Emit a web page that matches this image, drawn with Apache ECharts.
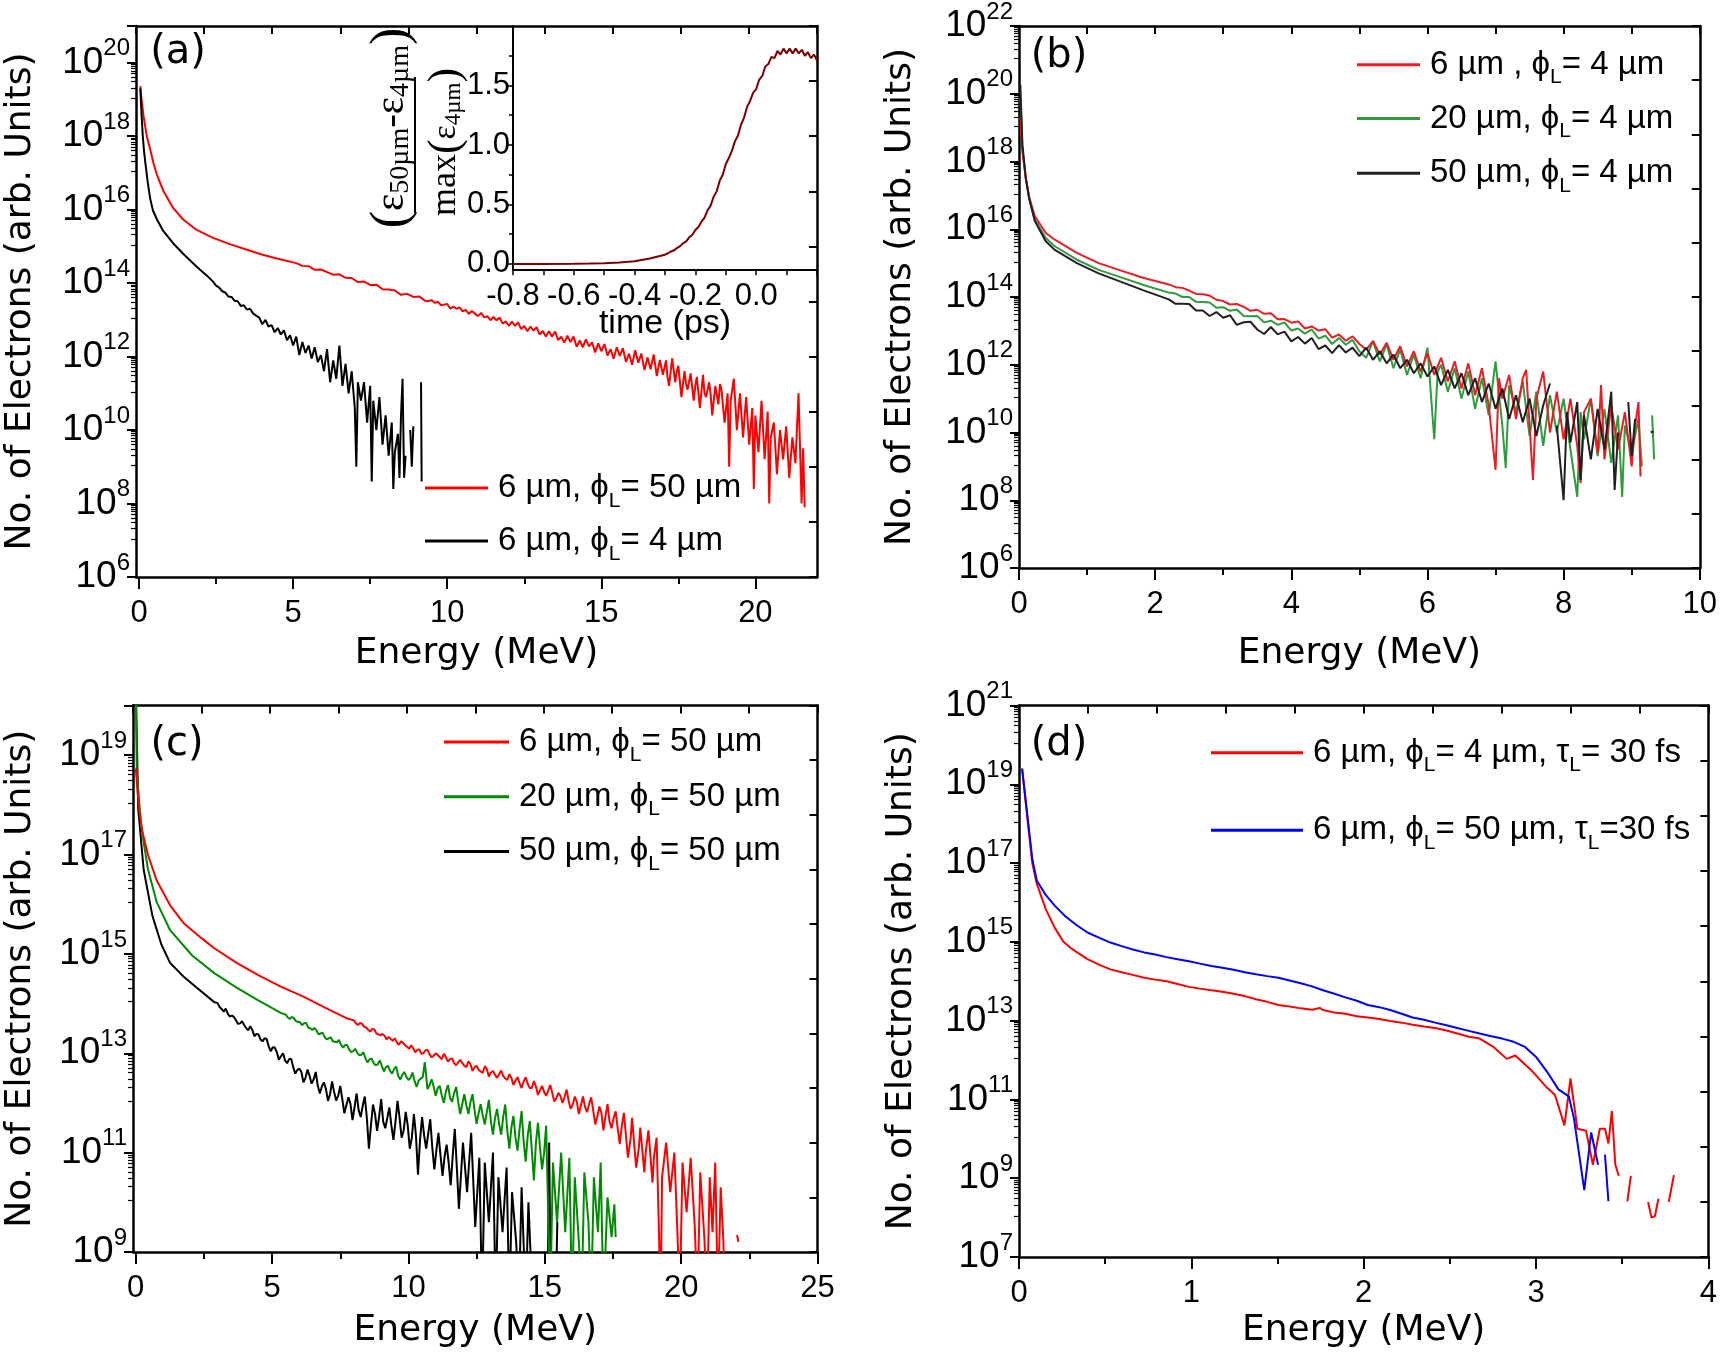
<!DOCTYPE html>
<html><head><meta charset="utf-8">
<script src="https://cdn.jsdelivr.net/npm/echarts@6/dist/echarts.min.js"></script>
<style>html,body{margin:0;padding:0;background:#fff}#chart{width:1720px;height:1352px}</style>
</head><body><div id="chart"></div>
<script>
// ---------------- DATA ----------------
// Panel (a): 6 µm target, two laser spot sizes
const redA = [[0.04,2.3e19],[0.08,1.0e19],[0.145,3.5e18],[0.25,1.0e18],[0.36,4.4e17],[0.47,1.8e17],[0.58,8.9e16],[0.79,3.2e16],[1.11,1.1e16],[1.43,5.4e15],[1.87,2.8e15],[2.4,1.7e15],[2.94,1.15e15],[3.5,8.1e14],[4.01,5.9e14],[4.5,4.6e14],
[5.1,3.5e14],[5.3,2.95e14],[5.5,2.9e14],[5.7,2.3e14],[5.9,2.35e14],[6.1,2.0e14],[6.3,1.7e14],[6.5,1.74e14],[6.7,1.4e14],[6.9,1.38e14],[7.1,1.07e14],[7.3,1.1e14],[7.5,8.9e13],[7.7,9.1e13],[7.9,6.8e13],[8.1,6.7e13],[8.3,6.3e13],[8.5,4.8e13],[8.7,5.1e13],[8.9,4.2e13],[9.1,4.3e13],[9.3,3.2e13],
[9.5,3.4e13],[9.6,2.9e13],[9.7,3.1e13],[9.8,2.5e13],[9.9,2.6e13],[10.0,2.7e13],[10.1,2.0e13],[10.2,2.3e13],[10.3,2.0e13],[10.4,2.2e13],[10.5,1.7e13],[10.6,1.86e13],[10.7,1.45e13],[10.8,1.74e13],[10.9,1.48e13],[11.0,1.26e13],[11.1,1.55e13],[11.2,1.17e13],[11.3,1.26e13],[11.4,9.8e12],[11.5,1.2e13],[11.6,9.8e12],[11.7,1.15e13],[11.8,7.9e12],[11.9,9.1e12],[12.0,6.9e12],[12.1,8.9e12],[12.2,6.9e12],[12.3,8.5e12],[12.4,5.6e12],[12.5,6.8e12],[12.6,4.9e12],[12.7,6.6e12],[12.8,5.1e12],[12.9,6.3e12],[13.0,4.0e12],[13.1,5.0e12],[13.2,3.5e12],[13.3,4.9e12],[13.4,3.5e12],[13.5,4.8e12],[13.6,2.8e12],[13.7,3.5e12],[13.8,2.4e12],[13.9,3.7e12],[14.0,2.5e12],[14.1,3.5e12],[14.2,1.86e12],[14.3,2.75e12],[14.4,1.8e12],[14.5,2.95e12],[14.6,1.9e12],[14.7,2.45e12],[14.8,1.3e12],[14.9,2.3e12],[15.0,1.4e12],[15.1,2.2e12],[15.2,1.07e12],[15.3,1.6e12],[15.4,8.7e11],[15.5,1.8e12],[15.6,1.05e12],[15.7,1.7e12],[15.8,7.2e11],[15.9,1.2e12],[16.0,6.0e11],[16.1,1.5e12],[16.2,6.8e11],[16.3,1.2e12],[16.4,4.3e11],[16.5,9.5e11],[16.6,4.5e11],[16.7,1.15e12],[16.8,3.0e11],[16.9,8.1e11],[17.0,3.2e11],
[17.1,7.9e11],[17.15,2.8e11],[17.2,1.6e11],[17.3,8.9e11],[17.4,2.0e11],[17.45,4.0e11],[17.5,5.6e11],[17.6,7.9e10],[17.7,4.0e11],[17.75,1.8e11],[17.8,1.26e11],[17.9,3.5e11],[18.0,6.3e10],[18.05,1.6e11],[18.1,2.8e11],[18.2,4.0e10],[18.3,3.2e11],[18.35,1.0e11],[18.4,7.9e10],[18.5,2.0e11],[18.55,8.9e10],[18.6,2.5e10],[18.7,1.6e11],[18.8,5.0e10],[18.85,1.8e11],[18.9,1.26e11],[19.0,1.6e10],[19.1,1.0e11],[19.15,1.0e9],[19.2,6.3e10],[19.3,2.5e11],[19.4,1.0e10],[19.5,1.0e11],[19.6,6.3e9],[19.7,7.9e10],[19.8,4.0e9],[19.9,4.0e10],[19.95,2.5e8],[20.0,2.5e10],[20.1,2.5e9],[20.2,6.3e10],[20.3,1.6e9],[20.4,3.2e10],[20.45,1.0e8],[20.5,6.3e9],[20.6,1.6e10],[20.7,6.3e8],[20.8,1.0e10],[20.9,1.6e9],[21.0,1.26e10],[21.1,5.0e8],[21.2,6.3e9],[21.3,1.26e9],[21.4,1.0e11],[21.5,1.0e8],[21.55,3.2e9],[21.6,7.9e7]];

const blackA = [[0.04,2.0e19],[0.08,4.0e18],[0.12,1.0e18],[0.16,4.0e17],[0.2,2.0e17],[0.28,5.6e16],[0.36,2.0e16],[0.45,9.5e15],[0.58,5.4e15],[0.79,2.6e15],[1.11,1.2e15],[1.43,6.3e14],[1.87,2.8e14],[2.2,1.6e14],[2.4,1.1e14],
[2.5,8.5e13],[2.6,7.6e13],[2.7,6.0e13],[2.8,5.5e13],[2.9,4.3e13],[3.0,4.2e13],[3.1,3.3e13],[3.2,3.2e13],[3.3,2.4e13],[3.4,2.5e13],[3.5,1.9e13],[3.6,2.0e13],[3.7,1.5e13],[3.8,1.3e13],[3.9,1.15e13],[4.0,7.6e12],[4.1,1.0e13],[4.2,6.6e12],[4.3,7.2e12],[4.4,4.6e12],[4.5,6.0e12],[4.6,4.0e12],[4.7,5.2e12],[4.8,2.8e12],[4.9,3.8e12],[5.0,2.0e12],[5.1,3.5e12],[5.2,1.1e12],[5.3,2.5e12],[5.4,1.26e12],[5.5,2.0e12],[5.6,8.9e11],[5.7,1.8e12],[5.8,7.1e11],[5.9,1.1e12],[6.0,4.0e11],[6.1,1.6e12],[6.2,2.0e11],[6.3,7.9e11],[6.4,2.5e11],[6.5,2.0e12],[6.6,1.6e11],[6.7,6.3e11],[6.8,1.0e11],[6.9,4.0e11],[7.0,4.0e10],[7.05,1.0e9],[7.1,2.0e11],[7.2,6.3e10],[7.3,2.0e11],[7.4,1.6e10],[7.5,1.6e11],[7.55,4.0e8],[7.6,6.3e10],[7.7,1.0e10],[7.8,7.9e10],[7.9,4.0e9],[8.0,2.5e10],[8.1,2.0e9],[8.2,1.6e10],[8.25,2.5e8],[8.3,2.5e9],[8.4,7.9e9],[8.45,5.0e8],[8.5,2.5e10],[8.55,2.5e11],[8.6,5.0e8],[8.65,2.0e9],[8.7,null],[8.8,1.0e10],[8.85,1.0e9],[8.9,1.26e10],[8.95,null],[9.15,2.0e11],[9.17,4.0e8]];

// Inset of (a): (ε50µm-ε4µm)/max(ε4µm) versus time (ps)
const insetCurve = [[-0.8,0],[-0.7,0],[-0.6,0.001],[-0.55,0.003],[-0.5,0.006],[-0.45,0.012],[-0.4,0.022],[-0.35,0.045],[-0.3,0.078],[-0.29,0.09],[-0.28,0.105],[-0.27,0.115],[-0.26,0.135],[-0.25,0.15],[-0.24,0.175],[-0.23,0.19],[-0.22,0.225],[-0.21,0.245],[-0.2,0.285],[-0.19,0.31],[-0.18,0.355],[-0.17,0.39],[-0.16,0.45],[-0.15,0.49],[-0.14,0.565],[-0.13,0.61],[-0.12,0.7],[-0.11,0.75],[-0.1,0.84],[-0.09,0.89],[-0.08,0.95],[-0.07,1.03],[-0.06,1.08],[-0.05,1.17],[-0.04,1.23],[-0.03,1.32],[-0.02,1.37],[-0.01,1.44],[0.0,1.47],[0.01,1.55],[0.02,1.58],[0.03,1.66],[0.04,1.68],[0.05,1.74],[0.06,1.73],[0.07,1.79],[0.08,1.76],[0.09,1.81],[0.1,1.77],[0.11,1.81],[0.12,1.77],[0.13,1.81],[0.14,1.77],[0.15,1.8],[0.16,1.75],[0.17,1.78],[0.18,1.73],[0.19,1.76],[0.2,1.71]];

// Panel (b): laser spot 4 µm, three target thicknesses
const redB = [[0.02,2.0e19],[0.05,2.0e18],[0.1,3.2e17],[0.15,8.9e16],[0.23,2.5e16],[0.39,7.9e15],[0.52,5.0e15],[0.85,2.0e15],[1.17,1.0e15],[1.5,6.0e14],[1.82,3.7e14],[2.2,2.35e14],
[2.3,1.95e14],[2.4,1.86e14],[2.5,1.55e14],[2.6,1.23e14],[2.7,1.2e14],[2.8,1.1e14],[2.9,8.3e13],[3.0,7.6e13],[3.1,6.0e13],[3.2,6.2e13],[3.3,5.1e13],[3.4,3.9e13],[3.5,4.2e13],[3.6,3.2e13],[3.7,3.3e13],[3.8,2.2e13],[3.9,2.24e13],[4.0,1.74e13],[4.1,1.9e13],[4.2,1.17e13],[4.3,1.35e13],[4.4,1.02e13],[4.5,1.12e13],[4.6,6.3e12],[4.7,7.8e12],[4.8,5.1e12],[4.9,6.9e12],[5.0,4.1e12],
[5.1,2.8e12],[5.2,5.0e12],[5.3,2.0e12],[5.4,4.5e12],[5.5,1.4e12],[5.6,3.5e12],[5.7,8.9e11],[5.8,2.5e12],[5.9,6.3e11],[6.0,2.2e12],[6.1,5.0e11],[6.2,1.6e12],[6.3,3.2e11],[6.4,1.26e12],[6.5,2.0e11],[6.6,1.1e12],[6.7,1.26e11],[6.8,7.9e11],[6.9,6.3e10],[7.0,7.9e8],[7.05,4.0e11],[7.1,1.0e11],[7.2,5.0e11],[7.3,2.5e10],[7.4,4.0e11],[7.45,7.1e11],[7.5,1.6e10],[7.55,4.0e8],[7.6,1.0e11],[7.7,6.3e11],[7.8,1.0e10],[7.9,1.6e11],[8.0,6.3e9],[8.1,1.0e11],[8.2,4.0e9],[8.25,3.2e8],[8.3,4.0e10],[8.4,1.0e11],[8.5,2.5e9],[8.55,2.5e11],[8.6,1.6e9],[8.7,6.3e10],[8.8,3.2e9],[8.9,4.0e10],[9.0,1.0e9],[9.05,1.6e10],[9.1,7.9e10],[9.13,5.0e8]];

const greenB = [[0.02,7.4e19],[0.05,2.5e18],[0.1,3.2e17],[0.15,7.9e16],[0.23,2.0e16],[0.39,5.6e15],[0.52,3.2e15],[0.85,1.26e15],[1.17,6.3e14],[1.5,3.8e14],[1.82,2.3e14],[2.2,1.35e14],
[2.3,1.26e14],[2.4,1.0e14],[2.5,1.0e14],[2.6,7.2e13],[2.7,7.1e13],[2.8,6.9e13],[2.9,4.8e13],[3.0,5.0e13],[3.1,3.9e13],[3.2,4.3e13],[3.3,2.75e13],[3.4,2.7e13],[3.5,2.75e13],[3.6,1.78e13],[3.7,2.0e13],[3.8,1.5e13],[3.9,1.78e13],[4.0,1.02e13],[4.1,1.17e13],[4.2,8.3e12],[4.3,1.1e13],[4.4,5.9e12],[4.5,7.2e12],[4.6,4.1e12],[4.7,6.2e12],[4.8,3.9e12],[4.9,5.4e12],[5.0,2.5e12],
[5.1,1.6e12],[5.2,5.0e12],[5.3,1.26e12],[5.4,4.0e12],[5.5,7.9e11],[5.6,2.8e12],[5.7,5.0e11],[5.8,2.0e12],[5.9,4.0e11],[6.0,3.2e12],[6.1,6.3e9],[6.15,6.3e11],[6.2,1.0e12],[6.3,1.6e11],[6.4,7.9e11],[6.5,1.0e11],[6.6,6.3e11],[6.7,5.0e10],[6.8,4.0e11],[6.9,3.2e10],[7.0,1.26e12],[7.1,1.6e10],[7.15,8.9e8],[7.2,2.5e11],[7.3,4.0e10],[7.4,3.2e11],[7.5,7.9e9],[7.6,1.6e11],[7.7,4.0e9],[7.8,1.26e11],[7.9,1.0e10],[8.0,1.0e11],[8.1,3.2e9],[8.2,1.26e8],[8.25,4.0e10],[8.3,6.3e9],[8.4,1.0e11],[8.5,2.0e9],[8.6,5.0e10],[8.7,1.26e9],[8.8,3.2e10],[8.86,1.26e8],[8.9,1.6e10],[9.0,2.5e9],[9.1,2.5e10],[9.15,1.0e9],[9.2,null],[9.3,3.2e10],[9.33,1.6e9]];

const blackB = [[0.02,1.8e20],[0.05,3.2e18],[0.1,3.2e17],[0.15,7.9e16],[0.23,1.8e16],[0.39,4.5e15],[0.52,2.5e15],[0.85,1.0e15],[1.17,5.0e14],[1.5,2.8e14],[1.82,1.6e14],[2.2,8.5e13],
[2.3,6.3e13],[2.4,6.3e13],[2.5,6.2e13],[2.6,4.0e13],[2.7,4.0e13],[2.8,2.75e13],[2.9,3.6e13],[3.0,2.45e13],[3.1,2.9e13],[3.2,1.5e13],[3.3,1.8e13],[3.4,1.86e13],[3.5,1.1e13],[3.6,8.1e12],[3.7,1.3e13],[3.8,7.9e12],[3.9,9.5e12],[4.0,4.9e12],[4.1,6.6e12],[4.2,4.2e12],[4.3,6.2e12],[4.4,2.9e12],[4.5,3.7e12],[4.6,2.2e12],[4.7,3.8e12],[4.8,2.3e12],[4.9,3.2e12],[5.0,1.8e12],
[5.1,3.2e12],[5.2,1.4e12],[5.3,2.5e12],[5.4,1.1e12],[5.5,2.0e12],[5.6,7.9e11],[5.7,1.4e12],[5.8,5.6e11],[5.9,1.1e12],[6.0,4.5e11],[6.1,8.9e11],[6.2,2.5e11],[6.3,7.1e11],[6.4,2.0e11],[6.5,5.6e11],[6.6,1.26e11],[6.7,4.0e11],[6.8,7.9e10],[6.9,2.8e11],[7.0,5.0e10],[7.1,2.0e11],[7.2,2.5e10],[7.3,1.26e11],[7.4,2.0e10],[7.5,1.0e11],[7.6,7.9e9],[7.7,6.3e10],[7.8,2.8e11],[7.85,null],[7.9,1.6e10],[8.0,1.0e8],[8.05,4.0e10],[8.1,5.0e9],[8.2,7.9e10],[8.25,4.0e8],[8.3,3.2e10],[8.4,1.6e9],[8.5,5.0e10],[8.6,3.2e9],[8.7,1.6e11],[8.75,2.0e8],[8.8,1.0e10],[8.85,null],[8.95,7.9e10],[9.0,2.0e9],[9.05,2.5e10],[9.1,null],[9.28,1.0e10],[9.32,1.1e10]];

// Panel (c): laser spot 50 µm, three target thicknesses
const redC = [[0.0,5.4e18],[0.12,8.5e17],[0.25,2.8e17],[0.45,9.8e16],[0.77,3.0e16],[1.26,9.5e15],[1.75,4.2e15],[2.4,2.1e15],[2.88,1.3e15],[3.7,6.6e14],[4.51,3.7e14],[5.32,2.2e14],[6.13,1.4e14],[6.94,8.3e13],[7.76,5.0e13],
[8.0,4.6e13],[8.075,4.0e13],[8.15,3.7e13],[8.225,4.1e13],[8.3,3.9e13],[8.375,3.4e13],[8.45,3.3e13],[8.525,2.95e13],[8.6,2.75e13],[8.675,3.1e13],[8.75,3.0e13],[8.825,2.5e13],[8.9,2.4e13],[8.975,2.3e13],[9.05,2.45e13],[9.125,2.24e13],[9.2,1.9e13],[9.275,2.14e13],[9.35,1.95e13],[9.425,1.78e13],[9.5,2.0e13],[9.575,1.66e13],[9.65,1.48e13],[9.725,1.74e13],[9.8,1.62e13],[9.875,1.45e13],[9.95,1.35e13],[10.025,1.23e13],[10.1,1.45e13],[10.175,1.26e13],[10.25,1.05e13],[10.325,1.17e13],[10.4,1.2e13],[10.475,9.8e12],[10.55,1.0e13],[10.625,1.15e13],[10.7,1.17e13],[10.775,9.5e12],[10.85,8.3e12],[10.925,8.9e12],[11.0,1.0e13],[11.075,9.3e12],[11.15,8.3e12],[11.225,7.6e12],[11.3,9.8e12],[11.375,8.3e12],[11.45,6.8e12],[11.525,7.6e12],[11.6,7.9e12],[11.675,6.3e12],[11.75,5.75e12],[11.825,6.6e12],[11.9,7.4e12],[11.975,6.3e12],[12.05,5.6e12],[12.125,5.25e12],[12.2,6.9e12],[12.275,6.0e12],[12.35,4.4e12],[12.425,5.25e12],[12.5,5.6e12],[12.575,4.6e12],[12.65,4.3e12],[12.725,4.0e12],[12.8,5.5e12],[12.875,4.8e12],[12.95,3.4e12],[13.025,4.1e12],[13.1,4.4e12],[13.175,3.7e12],[13.25,3.2e12],[13.325,3.8e12],[13.4,4.5e12],[13.475,3.5e12],[13.55,3.1e12],[13.625,2.9e12],[13.7,3.8e12],[13.775,3.2e12],[13.85,2.3e12],[13.925,2.8e12],[14.0,3.3e12],[14.075,2.5e12],[14.15,2.0e12],[14.225,2.7e12],[14.3,3.3e12],[14.375,2.4e12],[14.45,2.0e12],[14.525,2.0e12],[14.6,2.75e12],[14.675,2.14e12],[14.75,1.45e12],[14.825,1.8e12],[14.9,2.2e12],[14.975,1.66e12],[15.05,1.4e12],[15.125,1.78e12],[15.2,2.3e12],[15.275,1.58e12],[15.35,1.07e12],[15.425,1.26e12],[15.5,1.6e12],[15.575,1.38e12],[15.65,1.0e12],[15.725,1.32e12],[15.8,1.86e12],[15.875,1.1e12],[15.95,7.6e11],[16.025,9.3e11],[16.1,1.35e12],[16.175,1.05e12],[16.25,6.0e11],[16.325,8.9e11],[16.4,1.35e12],[16.475,8.3e11],[16.55,6.5e11],[16.625,9.5e11],[16.7,1.3e12],[16.775,7.1e11],[16.85,3.7e11],[16.925,5.25e11],[17.0,8.5e11],[17.075,6.3e11],[17.15,2.8e11],[17.225,5.4e11],[17.3,9.5e11],[17.375,4.2e11],[17.45,3.1e11],[17.525,5.0e11],[17.6,6.8e11],[17.675,3.0e11],[17.75,1.5e11],[17.825,3.5e11],[17.9,6.3e11],
[18.05,7.9e10],[18.15,2.0e11],[18.2,5.0e11],[18.35,5.0e10],[18.45,1.26e11],[18.5,3.2e11],[18.65,4.0e10],[18.7,1.0e11],[18.8,2.8e11],[18.95,2.5e10],[19.0,7.9e10],[19.1,2.0e11],[19.25,1.0e8],[19.3,3.2e10],[19.45,1.6e11],[19.6,1.6e10],[19.75,1.0e11],[19.85,4.0e9],[19.95,1.0e8],[20.05,6.3e10],[20.2,6.3e9],[20.35,7.9e10],[20.5,3.2e9],[20.6,1.0e8],[20.7,4.0e10],[20.85,2.0e9],[20.95,1.0e8],[21.05,3.2e10],[21.15,2.5e9],[21.25,6.3e10],[21.35,1.0e8],[21.45,2.0e10],[21.55,1.6e9],[21.6,1.0e8],[21.65,null],[22.05,2.2e9],[22.1,1.6e9]];

const greenC = [[0.0,3.0e20],[0.04,4.6e18],[0.2,3.7e17],[0.45,5.0e16],[0.77,1.1e16],[1.26,3.0e15],[2.07,9.3e14],[2.88,4.1e14],[3.7,2.1e14],[4.51,1.15e14],[5.32,6.5e13],
[5.5,6.0e13],[5.575,5.25e13],[5.65,4.9e13],[5.725,5.4e13],[5.8,5.1e13],[5.875,4.4e13],[5.95,4.3e13],[6.025,4.2e13],[6.1,3.7e13],[6.175,4.0e13],[6.25,4.1e13],[6.325,3.3e13],[6.4,3.2e13],[6.475,2.95e13],[6.55,3.25e13],[6.625,2.9e13],[6.7,2.4e13],[6.775,2.5e13],[6.85,2.6e13],[6.925,2.14e13],[7.0,1.9e13],[7.075,2.0e13],[7.15,2.1e13],[7.225,1.74e13],[7.3,1.7e13],[7.375,1.66e13],[7.45,1.86e13],[7.525,1.5e13],[7.6,1.3e13],[7.675,1.45e13],[7.75,1.48e13],[7.825,1.2e13],[7.9,1.05e13],[7.975,1.1e13],[8.05,1.23e13],[8.125,1.02e13],[8.2,9.1e12],[8.275,9.3e12],[8.35,1.05e13],[8.425,7.9e12],[8.5,6.5e12],[8.575,7.6e12],[8.65,7.8e12],[8.725,6.3e12],[8.8,5.75e12],[8.875,6.0e12],[8.95,7.2e12],[9.025,5.5e12],[9.1,4.3e12],[9.175,5.25e12],[9.25,5.6e12],[9.325,4.4e12],[9.4,3.9e12],[9.475,4.8e12],[9.55,5.4e12],[9.625,3.5e12],[9.7,2.95e12],[9.775,3.7e12],[9.85,4.2e12],[9.925,3.3e12],[10.0,2.9e12],[10.075,3.2e12],[10.15,4.1e12],[10.225,2.75e12],[10.3,2.1e12],[10.375,2.8e12],[10.45,3.1e12],[10.525,3.3e12],[10.6,6.6e12],[10.65,3.5e12],[10.7,1.9e12],[10.775,2.3e12],[10.85,3.0e12],[10.925,2.14e12],[11.0,1.4e12],[11.075,2.0e12],[11.15,2.2e12],[11.225,1.4e12],[11.3,1.0e12],[11.375,1.74e12],[11.45,2.3e12],[11.525,1.26e12],[11.6,1.05e12],[11.675,1.58e12],[11.75,2.1e12],[11.825,1.05e12],[11.9,6.0e11],[11.975,9.5e11],[12.05,1.5e12],[12.125,8.9e11],[12.2,6.0e11],[12.275,1.05e12],[12.35,1.5e12],[12.425,7.1e11],[12.5,3.8e11],[12.575,6.3e11],[12.65,9.5e11],[12.725,5.6e11],[12.8,3.7e11],[12.875,6.6e11],[12.95,1.15e12],[13.025,4.2e11],[13.1,2.3e11],[13.175,5.0e11],[13.25,7.6e11],[13.325,3.8e11],[13.4,2.3e11],[13.475,5.25e11],[13.55,9.3e11],[13.625,2.8e11],[13.7,1.2e11],[13.775,3.2e11],[13.85,5.5e11],[13.925,2.0e11],[14.0,1.1e11],[14.075,3.0e11],[14.15,6.9e11],[14.225,1.66e11],[14.3,6.6e10],[14.375,2.24e11],[14.45,4.3e11],[14.525,1.12e11],[14.6,2.75e10],[14.675,1.58e11],[14.75,4.0e11],[14.825,1.26e11],[14.9,4.6e10],[14.975,1.0e11],[15.05,3.5e11],
[15.2,1.0e8],[15.3,6.3e10],[15.45,4.0e9],[15.6,1.0e11],[15.75,2.5e9],[15.9,7.9e10],[16.0,1.0e8],[16.1,3.2e10],[16.25,1.6e9],[16.35,1.0e8],[16.45,4.0e10],[16.6,4.0e9],[16.7,1.0e8],[16.8,3.2e10],[16.95,2.5e9],[17.05,6.3e10],[17.15,1.0e8],[17.3,1.26e10],[17.45,2.0e9],[17.55,9.1e9],[17.6,2.0e9]];

const blackC = [[0.0,3.0e20],[0.09,8.5e17],[0.29,5.0e16],[0.61,5.9e15],[0.94,1.55e15],[1.26,6.6e14],[1.75,3.5e14],[2.23,2.1e14],[2.88,1.07e14],
[3.0,1.02e14],[3.075,8.5e13],[3.15,7.8e13],[3.225,6.9e13],[3.3,7.9e13],[3.375,6.3e13],[3.45,5.5e13],[3.525,5.75e13],[3.6,5.4e13],[3.675,4.6e13],[3.75,3.9e13],[3.825,4.0e13],[3.9,4.4e13],[3.975,3.7e13],[4.05,3.2e13],[4.125,2.9e13],[4.2,3.5e13],[4.275,2.95e13],[4.35,2.2e13],[4.425,2.45e13],[4.5,2.4e13],[4.575,1.9e13],[4.65,1.74e13],[4.725,2.0e13],[4.8,1.95e13],[4.875,1.38e13],[4.95,1.1e13],[5.025,1.32e13],[5.1,1.3e13],[5.175,1.05e13],[5.25,7.4e12],[5.325,8.7e12],[5.4,1.0e13],[5.475,7.2e12],[5.55,6.3e12],[5.625,7.6e12],[5.7,7.8e12],[5.775,5.25e12],[5.85,3.9e12],[5.925,4.6e12],[6.0,4.9e12],[6.075,4.2e12],[6.15,2.6e12],[6.225,3.2e12],[6.3,4.7e12],[6.375,3.5e12],[6.45,2.45e12],[6.525,3.0e12],[6.6,4.2e12],[6.675,2.24e12],[6.75,1.55e12],[6.825,2.14e12],[6.9,2.6e12],[6.975,1.9e12],[7.05,1.1e12],[7.125,1.5e12],[7.2,2.7e12],[7.275,1.66e12],[7.35,1.12e12],[7.425,1.4e12],[7.5,2.2e12],[7.575,1.2e12],[7.65,6.2e11],[7.725,9.1e11],[7.8,1.3e12],[7.875,9.5e11],[7.95,4.5e11],[8.025,8.3e11],[8.1,1.55e12],[8.175,7.1e11],[8.25,5.2e11],[8.325,8.9e11],[8.4,1.35e12],[8.475,5.0e11],[8.55,1.2e11],[8.625,3.5e11],[8.7,9.3e11],[8.775,6.0e11],[8.85,2.75e11],[8.925,5.25e11],[9.0,1.2e12],[9.075,4.2e11],[9.15,3.1e11],[9.225,5.0e11],[9.3,8.1e11],[9.375,3.5e11],[9.45,1.8e11],[9.525,4.2e11],[9.6,1.1e12],[9.675,5.0e11],[9.75,2.0e11],[9.825,2.8e11],[9.9,6.6e11],[9.975,3.5e11],[10.05,1.2e11],[10.125,2.0e11],[10.2,6.0e11],[10.275,2.24e11],[10.35,3.6e10],[10.425,1.78e11],[10.5,5.2e11],[10.575,2.24e11],[10.65,1.2e11],[10.725,2.4e11],[10.8,4.7e11],[10.875,1.26e11],[10.95,4.6e10],[11.025,1.12e11],[11.1,2.5e11],[11.175,8.9e10],[11.25,3.4e10],[11.325,8.3e10],[11.4,1.45e11],[11.475,6.3e10],[11.55,2.2e10],[11.625,8.9e10],[11.7,3.0e11],[11.775,5.0e10],[11.85,7.4e9],
[12.0,1.6e11],[12.15,1.6e10],[12.3,2.5e11],[12.45,3.2e9],[12.6,7.9e10],[12.7,1.0e8],[12.8,6.3e10],[12.95,4.0e9],[13.1,1.0e11],[13.2,1.0e8],[13.3,3.2e10],[13.45,2.5e9],[13.6,5.0e10],[13.7,1.0e8],[13.8,1.6e10],[13.95,1.6e9],[14.05,1.0e8],[14.15,2.0e10],[14.3,1.0e8],[14.4,1.0e10],[14.55,1.0e8],[14.6,null],[15.1,1.0e8],[15.16,1.6e11],[15.22,1.0e8],[15.3,null],[15.4,1.0e8],[15.46,4.0e9]];

// Panel (d): τL = 30 fs
const redD = [[0.018,2.5e19],[0.051,1.1e18],[0.077,1.0e17],[0.103,3.0e16],[0.155,6.8e15],[0.207,2.3e15],[0.258,1.0e15],[0.3,7.0e14],[0.337,5.4e14],[0.4,3.6e14],[0.467,2.6e14],[0.53,2.0e14],[0.596,1.7e14],[0.66,1.45e14],[0.726,1.23e14],[0.79,1.1e14],[0.856,1.0e14],[0.92,8.5e13],[0.986,7.2e13],[1.05,6.5e13],[1.116,5.9e13],[1.18,5.4e13],[1.245,4.8e13],[1.31,4.2e13],[1.375,3.5e13],[1.44,3.0e13],[1.505,2.5e13],[1.57,2.3e13],[1.635,2.05e13],[1.7,1.9e13],[1.745,2.1e13],[1.764,1.86e13],[1.83,1.6e13],[1.894,1.5e13],[1.96,1.3e13],[2.024,1.2e13],[2.09,1.1e13],[2.154,9.8e12],[2.22,8.9e12],[2.284,7.9e12],[2.35,7.1e12],[2.414,6.5e12],[2.48,5.6e12],[2.543,4.7e12],[2.61,3.9e12],[2.673,3.5e12],[2.75,2.2e12],[2.83,1.07e12],[2.88,1.3e12],[2.933,7.9e11],[2.98,5.1e11],[3.063,2.0e11],[3.11,1.3e11],[3.165,2.2e10],[3.2,3.4e11],[3.24,1.8e10],[3.29,1.6e10],[3.33,2.2e9],[3.37,1.8e10],[3.4,1.8e10],[3.42,7.6e9],[3.44,5.1e10],[3.46,2.2e9],[3.48,1.15e9],[3.5,null],[3.53,2.6e8],[3.55,1.15e9],[3.6,null],[3.65,2.5e8],[3.67,1.0e8],[3.69,1.1e8],[3.71,3.0e8],[3.74,null],[3.77,2.5e8],[3.8,1.2e9]];

const blueD = [[0.018,2.5e19],[0.051,1.3e18],[0.077,1.3e17],[0.103,3.6e16],[0.155,1.55e16],[0.207,8.3e15],[0.27,4.4e15],[0.337,2.6e15],[0.4,1.7e15],[0.467,1.26e15],[0.53,9.6e14],[0.596,7.8e14],[0.66,6.4e14],[0.726,5.4e14],[0.79,4.8e14],[0.856,4.1e14],[0.92,3.6e14],[0.986,3.2e14],[1.05,2.8e14],[1.116,2.45e14],[1.18,2.2e14],[1.245,1.95e14],[1.31,1.7e14],[1.375,1.5e14],[1.44,1.35e14],[1.505,1.23e14],[1.57,1.05e14],[1.635,8.9e13],[1.7,7.4e13],[1.764,5.9e13],[1.83,4.8e13],[1.894,3.9e13],[1.96,3.2e13],[2.024,2.5e13],[2.09,2.2e13],[2.154,1.86e13],[2.22,1.5e13],[2.284,1.2e13],[2.35,1.05e13],[2.414,8.9e12],[2.48,7.6e12],[2.543,6.5e12],[2.61,5.5e12],[2.673,4.7e12],[2.74,4.0e12],[2.803,3.5e12],[2.87,2.9e12],[2.933,2.2e12],[3.0,1.2e12],[3.063,5.1e11],[3.13,1.8e11],[3.19,1.2e11],[3.22,3.3e10],[3.28,5.0e8],[3.32,1.45e10],[3.36,2.2e9],[3.38,null],[3.4,4.0e9],[3.42,2.6e8]];

// tick labels
const xLabelsA = [0, 5, 10, 15, 20];
const xMinorA = [2.5, 7.5, 12.5, 17.5];
const xLabelsC = [0, 5, 10, 15, 20, 25];
const xMinorC = [2.5, 7.5, 12.5, 17.5, 22.5];
const insetYLabels = [0, 0.5, 1.0, 1.5];
const insetYMinor = [0.25, 0.75, 1.25, 1.75];

// series names (_L marks a subscript L)
const NAMES = {
  redA: '6 µm, ϕ_L= 50 µm', blackA: '6 µm, ϕ_L= 4 µm',
  redB: '6 µm , ϕ_L= 4 µm', greenB: '20 µm, ϕ_L= 4 µm', blackB: '50 µm, ϕ_L= 4 µm',
  redC: '6 µm, ϕ_L= 50 µm', greenC: '20 µm, ϕ_L= 50 µm', blackC: '50 µm, ϕ_L= 50 µm',
  redD: '6 µm, ϕ_L= 4 µm, τ_L= 30 fs', blueD: '6 µm, ϕ_L= 50 µm, τ_L=30 fs'
};

// ---------------- STYLE / LAYOUT ----------------
const FT = '"Liberation Sans", Arial, sans-serif';
const FH = '"DejaVu Sans", Verdana, sans-serif';
const FS = '"Liberation Serif", "Times New Roman", serif';
const Y_TITLE = 'No. of Electrons (arb. Units)';
const X_TITLE = 'Energy (MeV)';

const grids = [
  {left:132, top:26, width:685, height:551},      // a
  {left:1019, top:17, width:684, height:551},     // b
  {left:127.5, top:705.5, width:690, height:553}, // c
  {left:1019, top:705.5, width:693, height:557},  // d
  {left:513, top:26, width:304, height:243.3}     // inset
];

const AXLINE = {show:true, onZero:false, lineStyle:{color:'#000', width:2.5}};
const supRich = {
  b:{fontFamily:FT, fontSize:37, lineHeight:37, color:'#000'},
  s:{fontFamily:FT, fontSize:24, lineHeight:24, padding:[0,0,28,0], color:'#000'}
};
function expLabel(v){ const e = Math.round(Math.log(v)/Math.LN10); return '{b|10}{s|' + e + '}'; }

function yLog(gi, min, max, gap, showMax){
  return {type:'log', logBase:10, gridIndex:gi, position:'left', min:min, max:max, interval:2,
    axisLine:AXLINE,
    axisTick:{show:true, inside:false, length:9, lineStyle:{color:'#000', width:2}},
    minorTick:{show:true, splitNumber:10, length:5, lineStyle:{color:'#000', width:1.2}},
    splitLine:{show:false}, minorSplitLine:{show:false},
    axisLabel:{show:true, margin:6, showMaxLabel:showMax, formatter:expLabel, rich:supRich},
    name:Y_TITLE, nameLocation:'middle', nameGap:gap, nameMoveOverlap:false,
    nameTextStyle:{fontFamily:FH, fontSize:36, color:'#000', lineHeight:40}};
}
function mirrorY(gi){
  return {type:'value', gridIndex:gi, position:'right', min:0, max:10, interval:1,
    axisLine:AXLINE, axisTick:{show:true, inside:true, length:8, lineStyle:{color:'#000', width:2}},
    axisLabel:{show:false}, splitLine:{show:false}};
}
function mirrorX(gi){
  return {type:'value', gridIndex:gi, position:'top', min:0, max:10, interval:1,
    axisLine:AXLINE, axisTick:{show:true, inside:true, length:8, lineStyle:{color:'#000', width:2}},
    axisLabel:{show:false}, splitLine:{show:false}};
}
const xLabelStyle = {fontFamily:FT, fontSize:31, color:'#000', margin:21};
function xBottom(gi, min, max, gap, extra){
  return Object.assign({type:'value', gridIndex:gi, position:'bottom', min:min, max:max,
    axisLine:AXLINE,
    axisTick:{show:true, inside:false, length:12, lineStyle:{color:'#000', width:2}},
    splitLine:{show:false},
    axisLabel:Object.assign({}, xLabelStyle),
    name:X_TITLE, nameLocation:'middle', nameGap:gap, nameMoveOverlap:false,
    nameTextStyle:{fontFamily:FH, fontSize:36, color:'#000', lineHeight:40}}, extra || {});
}
function xMinorOverlay(gi, min, max, vals){
  return {type:'value', gridIndex:gi, position:'bottom', min:min, max:max,
    axisLine:{show:false, onZero:false}, axisTick:{show:true, inside:false, length:7, customValues:vals, lineStyle:{color:'#000', width:2}},
    axisLabel:{show:false}, splitLine:{show:false}};
}

const xAxes = [
  xBottom(0, -0.1, 22, 57, {axisTick:{show:true, inside:false, length:12, customValues:xLabelsA, lineStyle:{color:'#000', width:2}},
    axisLabel:Object.assign({customValues:xLabelsA}, xLabelStyle)}),              // 0 a bottom
  xMinorOverlay(0, -0.1, 22, xMinorA),                                            // 1 a minor
  mirrorX(0),                                                                     // 2 a top
  xBottom(1, 0, 10, 66, {interval:2, minorTick:{show:true, splitNumber:2, length:7, lineStyle:{color:'#000', width:2}}}), // 3 b
  mirrorX(1),                                                                     // 4 b top
  xBottom(2, -0.1, 25, 59, {axisTick:{show:true, inside:false, length:12, customValues:xLabelsC, lineStyle:{color:'#000', width:2}},
    axisLabel:Object.assign({customValues:xLabelsC}, xLabelStyle)}),              // 5 c bottom
  xMinorOverlay(2, -0.1, 25, xMinorC),                                            // 6 c minor
  mirrorX(2),                                                                     // 7 c top
  xBottom(3, 0, 4, 54, {interval:1, minorTick:{show:true, splitNumber:2, length:7, lineStyle:{color:'#000', width:2}}}),  // 8 d
  mirrorX(3),                                                                     // 9 d top
  {type:'value', gridIndex:4, position:'bottom', min:-0.8, max:0.2, interval:0.2, // 10 inset bottom
    axisLine:{show:true, onZero:false, lineStyle:{color:'#000', width:2}},
    axisTick:{show:true, inside:false, length:6, lineStyle:{color:'#000', width:1.5}},
    minorTick:{show:true, splitNumber:2, length:6, lineStyle:{color:'#000', width:1.5}},
    splitLine:{show:false},
    axisLabel:{fontFamily:FT, fontSize:31, color:'#000', margin:12, showMaxLabel:false,
      formatter:function(v){ return (Math.abs(v) < 1e-9 ? 0 : v).toFixed(1); }},
    name:'time (ps)', nameLocation:'middle', nameGap:36, nameMoveOverlap:false,
    nameTextStyle:{fontFamily:FT, fontSize:34, color:'#000', lineHeight:36}}
];

const yAxes = [
  yLog(0, 1e6, 1e21, 95, false), // 0 a
  mirrorY(0),                     // 1
  yLog(1, 1e6, 1e22, 98, true),  // 2 b
  mirrorY(1),                     // 3
  yLog(2, 1e9, 1e20, 92, false), // 4 c
  mirrorY(2),                     // 5
  yLog(3, 1e7, 1e21, 97, true),  // 6 d
  mirrorY(3),                     // 7
  {type:'value', gridIndex:4, position:'left', min:-0.045, max:2.0,        // 8 inset left
    axisLine:{show:true, onZero:false, lineStyle:{color:'#000', width:2}},
    axisTick:{show:true, inside:false, length:6, customValues:insetYLabels, lineStyle:{color:'#000', width:1.5}},
    axisLabel:{customValues:insetYLabels, fontFamily:FT, fontSize:31, color:'#000', margin:3,
      formatter:function(v){ return v.toFixed(1); }},
    splitLine:{show:false}},
  {type:'value', gridIndex:4, position:'left', min:-0.045, max:2.0,        // 9 inset minor overlay
    axisLine:{show:false, onZero:false}, axisTick:{show:true, inside:false, length:4, customValues:insetYMinor, lineStyle:{color:'#000', width:1.5}},
    axisLabel:{show:false}, splitLine:{show:false}}
];

function ser(key, data, color, xi, yi, w){
  return {type:'line', name:NAMES[key] || key, data:data, xAxisIndex:xi, yAxisIndex:yi,
    symbol:'none', showSymbol:false, connectNulls:false, clip:true, silent:true,
    lineStyle:{color:color, width:w || 2}, itemStyle:{color:color}, animation:false};
}

const series = [
  ser('redA', redA, '#FF0000', 0, 0),
  ser('blackA', blackA, '#000000', 0, 0),
  ser('inset', insetCurve, '#7A0000', 10, 8, 2),
  ser('greenB', greenB, '#2E9C3E', 3, 2),
  ser('redB', redB, '#EC1C24', 3, 2),
  ser('blackB', blackB, '#231F20', 3, 2),
  ser('blackC', blackC, '#000000', 5, 4),
  ser('greenC', greenC, '#008C00', 5, 4),
  ser('redC', redC, '#FF0000', 5, 4),
  ser('redD', redD, '#FF0000', 8, 6),
  ser('blueD', blueD, '#0000FF', 8, 6)
];

const legendText = {fontFamily:FT, fontSize:33, color:'#000', lineHeight:33, padding:[0,0,0,5],
  rich:{s:{fontFamily:FT, fontSize:21, lineHeight:21, padding:[26,0,0,0], color:'#000'}}};
function legendRow(key, x, yCenter, w){
  return {show:true, data:[NAMES[key]], left:x, top:yCenter - 23.5, orient:'horizontal', padding:0,
    itemWidth:w, itemHeight:3, icon:'rect', itemGap:0, selectedMode:false,
    formatter:function(n){ return n.split('_L').join('{s|L}'); }, textStyle:legendText};
}
const legends = [
  legendRow('redA', 425, 488, 63), legendRow('blackA', 425, 541, 63),
  legendRow('redB', 1357, 64.7, 63), legendRow('greenB', 1357, 118.5, 63), legendRow('blackB', 1357, 173.3, 63),
  legendRow('redC', 444, 742, 65), legendRow('greenC', 444, 796.7, 65), legendRow('blackC', 444, 851.4, 65),
  legendRow('redD', 1211, 752.7, 92), legendRow('blueD', 1211, 830.3, 92)
];

function panelLabel(t, x, y){
  return {type:'text', x:x, y:y, silent:true,
    style:{text:t, fontFamily:FH, fontSize:40, fill:'#000', align:'center', verticalAlign:'middle', textAlign:'center', textVerticalAlign:'middle'}};
}
const numRich = {
  p:{fontFamily:FS, fontSize:52, fill:'#000', color:'#000'},
  e:{fontFamily:FS, fontSize:41, fill:'#000', color:'#000'},
  s:{fontFamily:FS, fontSize:28, padding:[18,0,0,0], fill:'#000', color:'#000'}
};
const denRich = {
  p:{fontFamily:FS, fontSize:44, fill:'#000', color:'#000'},
  m:{fontFamily:FS, fontSize:36, fill:'#000', color:'#000'},
  e:{fontFamily:FS, fontSize:34, fill:'#000', color:'#000'},
  s:{fontFamily:FS, fontSize:23, padding:[16,0,0,0], fill:'#000', color:'#000'}
};
const graphics = [
  panelLabel('(a)', 178, 53), panelLabel('(b)', 1059, 57), panelLabel('(c)', 177, 745), panelLabel('(d)', 1059, 745),
  {type:'text', x:392, y:128, rotation:Math.PI/2, silent:true,
    style:{text:'{p|(}{e|ε}{s|50µm}{e|-ε}{s|4µm}{p|)}', rich:numRich, fontFamily:FS, fontSize:40, fill:'#000',
      align:'center', verticalAlign:'middle', textAlign:'center', textVerticalAlign:'middle'}},
  {type:'text', x:446, y:142, rotation:Math.PI/2, silent:true,
    style:{text:'{m|max}{p|(}{e|ε}{s|4µm}{p|)}', rich:denRich, fontFamily:FS, fontSize:34, fill:'#000',
      align:'center', verticalAlign:'middle', textAlign:'center', textVerticalAlign:'middle'}},
  {type:'line', silent:true, shape:{x1:415, y1:77, x2:415, y2:213}, style:{stroke:'#000', lineWidth:2}}
];

const chart = echarts.init(document.getElementById('chart'), null, {renderer:'canvas', width:1720, height:1352});
chart.setOption({
  animation:false,
  backgroundColor:'#ffffff',
  textStyle:{fontFamily:FT},
  grid:grids.map(g => Object.assign({show:false, containLabel:false}, g)),
  xAxis:xAxes, yAxis:yAxes,
  legend:legends,
  series:series,
  graphic:graphics
});
</script></body></html>
